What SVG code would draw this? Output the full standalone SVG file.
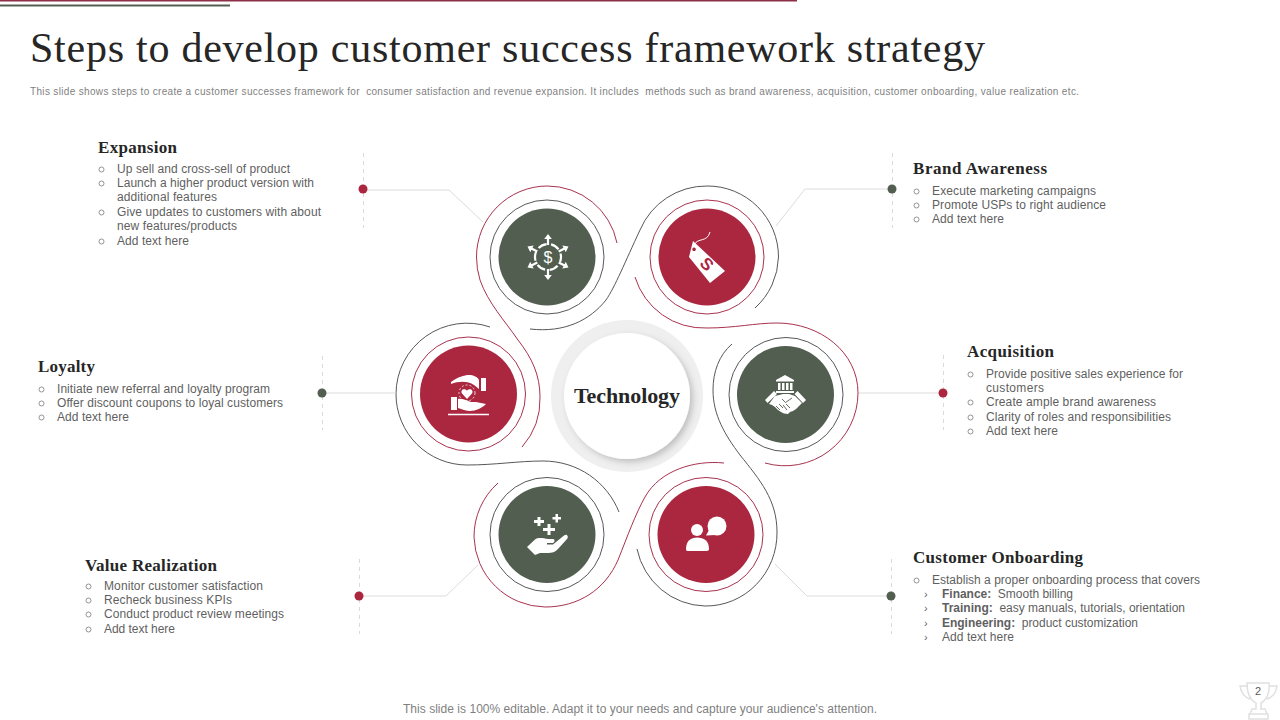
<svg xmlns="http://www.w3.org/2000/svg" width="1280" height="720" viewBox="0 0 1280 720">
<style>
.title{font:42px "Liberation Serif",serif;fill:#262626}
.sub{font:10px "Liberation Sans",Arial,sans-serif;fill:#7f7f7f;white-space:pre}
.foot{font:12px "Liberation Sans",Arial,sans-serif;fill:#7f7f7f}
.h{font:bold 17px "Liberation Serif",serif;fill:#262626}
.b{font:12px "Liberation Sans",Arial,sans-serif;fill:#5f5f5f}
.bb{font-weight:bold}
.ch{font-size:11px}
.bul{fill:none;stroke:#7a7a7a;stroke-width:.8}
.red{fill:#ab2740}.grn{fill:#525f50}
.rr{fill:none;stroke:#a8324e;stroke-width:1}
.dr{fill:none;stroke:#55585a;stroke-width:1}
.lead{fill:none;stroke:#dcdcdc;stroke-width:1}
.dash{fill:none;stroke:#d9d9d9;stroke-width:1;stroke-dasharray:4 4}
.w{fill:#fff}
.ws{fill:none;stroke:#fff;stroke-width:2.200}
</style>
<defs>
<filter id="sh" x="-20%" y="-20%" width="140%" height="140%"><feDropShadow dx="3" dy="3" stdDeviation="3" flood-color="#000" flood-opacity=".2"/></filter>
<path id="arr" d="M-1.100,-12V-18H-3.800L0,-23L3.800,-18H1.100V-12Z" fill="#fff"/>
</defs>
<rect width="1280" height="720" fill="#fff"/>
<g id="header">
<rect x="0" y="0" width="797" height="1.500" fill="#8c3049"/>
<rect x="0" y="4.500" width="230" height="2" fill="#545f52"/>
<text class="title" x="30" y="62" textLength="955" lengthAdjust="spacing">Steps to develop customer success framework strategy</text>
<text class="sub" x="30" y="95" textLength="1049" lengthAdjust="spacing">This slide shows steps to create a customer successes framework for  consumer satisfaction and revenue expansion. It includes  methods such as brand awareness, acquisition, customer onboarding, value realization etc.</text>
</g>
<g id="connectors">
<path class="rr" d="M617,243A71,71 0 0 0 547,186A71,71 0 0 0 476.500,257Q476.500,269 480,280C488,303 505,321 518,340C532,358 540,375 540,397A72,72 0 0 1 522,447"/>
<path class="dr" d="M530,329C565,333 590,320 606,300C615,287 625,262 640,230A72,72 0 0 1 707,186A71,71 0 0 1 778.500,257A71,71 0 0 1 755,308"/>
<path class="rr" d="M635,277A72,72 0 0 0 707,328C735,328 755,323 777,323C820,323 858,352 858,393A73,73 0 0 1 765,463"/>
<path class="dr" d="M732,344C719,355 713,372 713,390C713,415 725,435 740,455C760,480 777,500 777,532A71,73 0 0 1 705,606A71,72 0 0 1 637,549"/>
<path class="rr" d="M724,463C695,460 660,470 645,497C635,515 628,535 618,560C605,590 578,607 545,607A72,72 0 0 1 474,537A72,72 0 0 1 498,483"/>
<path class="dr" d="M619,512C607,482 578,461 543,461C518,461 495,465 467,465A71,71 0 0 1 396,394A71,71 0 0 1 490,327"/>
<path class="lead" d="M363,190H449L483,222M892,189H805L776,226M322,393H396M943,393H859M359,596H446L478,565M891,596H807L775,564"/>
<path class="dash" d="M363.500,153V228M892.500,153V228M322.500,356V430M943.500,355V430M359.500,559V634M891.500,559V634"/>
<circle class="red" cx="363" cy="189" r="4.500"/><circle class="grn" cx="892" cy="189" r="4.500"/>
<circle class="grn" cx="322" cy="393" r="4.500"/><circle class="red" cx="943" cy="393" r="4.500"/>
<circle class="red" cx="359" cy="596" r="4.500"/><circle class="grn" cx="891" cy="596" r="4.500"/>
</g>
<g id="technology">
<circle cx="627" cy="396" r="76" fill="#efefef"/>
<circle cx="627" cy="396" r="63" fill="#fff" filter="url(#sh)"/>
<text x="574" y="403" font-family="Liberation Serif,serif" font-weight="bold" font-size="22" fill="#262626" textLength="106" lengthAdjust="spacing">Technology</text>
</g>
<g id="expansion">
<circle class="dr" cx="547" cy="257" r="57"/><circle class="grn" cx="547" cy="257" r="48.500"/>
<g transform="translate(548,257)">
<circle class="ws" r="13" stroke-dasharray="9 4.600" stroke-dashoffset="4"/>
<use href="#arr"/><use href="#arr" transform="rotate(63)"/><use href="#arr" transform="rotate(117)"/><use href="#arr" transform="rotate(180)"/><use href="#arr" transform="rotate(243)"/><use href="#arr" transform="rotate(297)"/>
<text y="5.500" text-anchor="middle" font-family="Liberation Sans,sans-serif" font-size="16" fill="#fff">$</text>
</g>
<text class="h" x="98" y="153" textLength="79" lengthAdjust="spacing">Expansion</text>
<g class="b">
<text x="117" y="173" textLength="173">Up sell and cross-sell of product</text>
<text x="117" y="187" textLength="197">Launch a higher product version with</text>
<text x="117" y="201" textLength="100">additional features</text>
<text x="117" y="216" textLength="204">Give updates to customers with about</text>
<text x="117" y="230" textLength="120">new features/products</text>
<text x="117" y="245" textLength="72">Add text here</text>
</g>
<g class="bul"><circle cx="101.500" cy="169.500" r="2.500"/><circle cx="101.500" cy="183.500" r="2.500"/><circle cx="101.500" cy="212.500" r="2.500"/><circle cx="101.500" cy="241.500" r="2.500"/></g>
</g>
<g id="brand-awareness">
<circle class="rr" cx="707" cy="257" r="57"/><circle class="red" cx="707" cy="257" r="48.500"/>
<path class="w" d="M693,241L725,271L710,283L689,257ZM694,247.500a1.800,1.800 0 1 0 .1,0Z" fill-rule="evenodd"/>
<path d="M694,245C698,237 707,243 710,232" fill="none" stroke="#fff" stroke-width="1"/>
<text transform="translate(707,264) rotate(45)" y="6" text-anchor="middle" font-family="Liberation Sans,sans-serif" font-weight="bold" font-size="17" fill="#ab2740">S</text>
<text class="h" x="913" y="174" textLength="134" lengthAdjust="spacing">Brand Awareness</text>
<g class="b">
<text x="932" y="195" textLength="164">Execute marketing campaigns</text>
<text x="932" y="209" textLength="174">Promote USPs to right audience</text>
<text x="932" y="223" textLength="72">Add text here</text>
</g>
<g class="bul"><circle cx="916.500" cy="191.500" r="2.500"/><circle cx="916.500" cy="205.500" r="2.500"/><circle cx="916.500" cy="219.500" r="2.500"/></g>
</g>
<g id="loyalty">
<circle class="rr" cx="468.500" cy="394" r="57"/><circle class="red" cx="468.500" cy="394" r="48.500"/>
<path class="w" d="M451,382C458,377 464,375 469,375C473,375 478,377 479,380V389L474,385C468,381 459,381 451,384ZM481,378H486V391H481ZM451,397H457V410H451ZM458,399C463,398 467,401 471,402H476L486,404C482,408 476,411 470,411C466,411 462,409 458,408Z"/>
<path class="ws" d="M448,414.500H489" style="stroke-width:1.400"/>
<circle cx="467" cy="393" r="8" fill="none" stroke="#fff" stroke-width=".8" stroke-dasharray="2 2"/>
<path class="w" d="M467,399L462,393.500C460,390 464,387.500 467,390.500C470,387.500 474,390 472,393.500Z"/>
<text class="h" x="38" y="372" textLength="57" lengthAdjust="spacing">Loyalty</text>
<g class="b">
<text x="57" y="393" textLength="213">Initiate new referral and loyalty program</text>
<text x="57" y="407" textLength="226">Offer discount coupons to loyal customers</text>
<text x="57" y="421" textLength="72">Add text here</text>
</g>
<g class="bul"><circle cx="41.500" cy="389.500" r="2.500"/><circle cx="41.500" cy="403.500" r="2.500"/><circle cx="41.500" cy="417.500" r="2.500"/></g>
</g>
<g id="acquisition">
<circle class="dr" cx="786" cy="394.500" r="57"/><circle class="grn" cx="785.500" cy="394.500" r="48.500"/>
<path class="w" d="M785,375L794,380V381.500H776V380ZM778,383H780.500V390H778ZM782,383H784.500V390H782ZM786,383H788.500V390H786ZM790,383H792.500V390H790ZM776,391H794V393H776ZM765,400L774,391L777,394L767.500,403ZM797.500,391L806,400L803,403L794.500,394ZM775,396L783,394H789L795,396L802,403L799,406L796,409L793,411L790,412L788,414L784,413.500L781,412L778,410L775,407L772,405L769,404Z"/>
<path d="M782,399L785.500,402.500L792,398M779,404L783,408M776,406L780,410M786,404L790,408M783,405L787,410" fill="none" stroke="#525f50" stroke-width=".9"/>
<text class="h" x="967" y="357" textLength="87" lengthAdjust="spacing">Acquisition</text>
<g class="b">
<text x="986" y="378" textLength="197">Provide positive sales experience for</text>
<text x="986" y="392" textLength="58">customers</text>
<text x="986" y="406" textLength="170">Create ample brand awareness</text>
<text x="986" y="421" textLength="185">Clarity of roles and responsibilities</text>
<text x="986" y="435" textLength="72">Add text here</text>
</g>
<g class="bul"><circle cx="970.500" cy="374.500" r="2.500"/><circle cx="970.500" cy="402.500" r="2.500"/><circle cx="970.500" cy="417.500" r="2.500"/><circle cx="970.500" cy="431.500" r="2.500"/></g>
</g>
<g id="value-realization">
<circle class="dr" cx="547" cy="534.500" r="57"/><circle class="grn" cx="547" cy="534.500" r="48.500"/>
<path class="w" d="M537.500,517H540.500V520H544V523H540.500V526H537.500V523H534V520H537.500ZM547.500,524H550.500V528H555V531H550.500V535H547.500V531H543V528H547.500ZM555.500,514H558V517H561V519.500H558V522.500H555.500V519.500H552.500V517H555.500ZM527,547L535,539.500C538,537 543,538 548,539H553C555,539 555,542 553,543H547V544.500H553L564,535.500C567,533 569,537 567,539L558,549C555,552 552,553 548,553H540L535,555Z"/>
<text class="h" x="85" y="571" textLength="132" lengthAdjust="spacing">Value Realization</text>
<g class="b">
<text x="104" y="590" textLength="159">Monitor customer satisfaction</text>
<text x="104" y="604" textLength="128">Recheck business KPIs</text>
<text x="104" y="618" textLength="180">Conduct product review meetings</text>
<text x="104" y="633" textLength="71">Add text here</text>
</g>
<g class="bul"><circle cx="88.500" cy="586.500" r="2.500"/><circle cx="88.500" cy="600.500" r="2.500"/><circle cx="88.500" cy="614.500" r="2.500"/><circle cx="88.500" cy="629.500" r="2.500"/></g>
</g>
<g id="customer-onboarding">
<circle class="rr" cx="706" cy="534.500" r="57"/><circle class="red" cx="706" cy="534.500" r="48.500"/>
<circle class="w" cx="697" cy="530" r="6"/>
<path class="w" d="M686,549C686,541 691,537.500 697,537.500C704,537.500 709,541 709,549C709,551 707,551 705,551H689C687,551 686,551 686,549Z"/>
<circle class="w" cx="717" cy="526" r="9.500"/>
<path class="w" d="M709,530L706,535.500L715,535Z"/>
<text class="h" x="913" y="563" textLength="170" lengthAdjust="spacing">Customer Onboarding</text>
<g class="b">
<text x="932" y="584" textLength="268">Establish a proper onboarding process that covers</text>
<text class="ch" x="924" y="598">›</text><text x="942" y="598" textLength="131" style="white-space:pre"><tspan class="bb">Finance:</tspan>  Smooth billing</text>
<text class="ch" x="924" y="612">›</text><text x="942" y="612" textLength="243" style="white-space:pre"><tspan class="bb">Training:</tspan>  easy manuals, tutorials, orientation</text>
<text class="ch" x="924" y="627">›</text><text x="942" y="627" textLength="196" style="white-space:pre"><tspan class="bb">Engineering:</tspan>  product customization</text>
<text class="ch" x="924" y="641">›</text><text x="942" y="641" textLength="72">Add text here</text>
</g>
<circle class="bul" cx="916.500" cy="580.500" r="2.500"/>
</g>
<g id="footer">
<text class="foot" x="403" y="713" textLength="474">This slide is 100% editable. Adapt it to your needs and capture your audience's attention.</text>
<path d="M1247,683H1269C1270,692 1267,700 1261,703V709H1265L1267,714H1250L1252,709H1256V703C1250,700 1247,692 1247,683ZM1247,686H1240C1241,693 1244,697 1250,699M1269,686H1277C1276,693 1273,697 1267,699M1249,714H1268V719H1249Z" fill="none" stroke="#e0e0e0" stroke-width="1.500"/>
<text x="1258" y="695" text-anchor="middle" font-family="Liberation Sans,sans-serif" font-size="11" fill="#595959">2</text>
</g>
</svg>
